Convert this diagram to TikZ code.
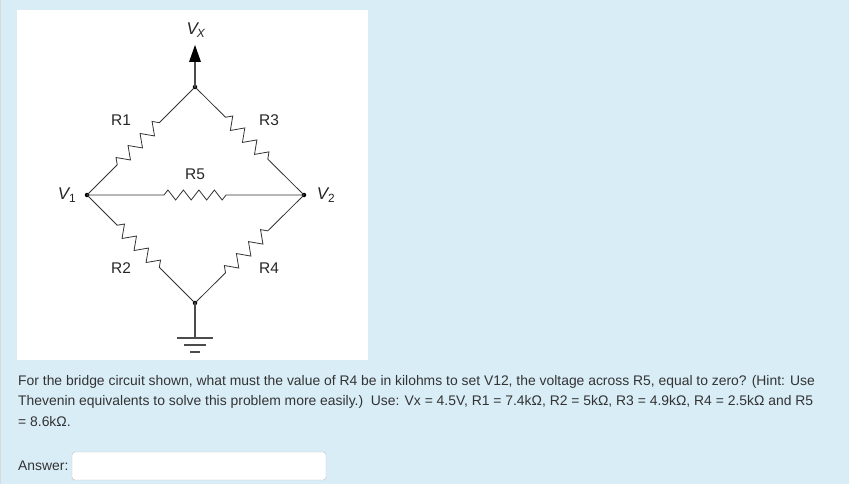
\documentclass[tikz,border=0pt]{standalone}
\usepackage{fontspec}
\setmainfont{Liberation Sans}
\usetikzlibrary{calc,decorations.pathmorphing,arrows.meta}
\definecolor{bg}{HTML}{D9EDF7}
\definecolor{txt}{HTML}{333333}
\begin{document}
\begin{tikzpicture}[x=1pt,y=-1pt,
  wire/.style={draw=black!80,line width=0.8pt},
  zz/.style={decorate,decoration={zigzag,segment length=17pt,amplitude=6pt}},
  zh/.style={decorate,decoration={zigzag,segment length=15.5pt,amplitude=5pt}},
  dot/.style={circle,fill=black,inner sep=0pt,minimum size=4.5pt},
  lab/.style={font=\fontsize{15.5}{16}\selectfont,text=black!85},
  para/.style={font=\fontsize{13.9}{20.5}\selectfont,text=txt,align=left,anchor=north west,inner sep=0pt}]
\useasboundingbox (0,0) rectangle (849,484);
\fill[bg] (0,0) rectangle (849,484);
\draw[black!15,line width=1pt] (0.5,0) -- (0.5,484);
\fill[white] (17,10) rectangle (368,360);
\node[dot] (T) at (195,87) {};
\node[dot] (L) at (87,195) {};
\node[dot] (R) at (304,195) {};
\node[dot] (B) at (195,303) {};
\coordinate (g) at (195,338);
\draw[black!70,line width=2pt] (T.center) -- (195,60);
\fill[black] (189,62) -- (201,62) -- (195,45) -- cycle;
\draw[black!70,line width=2pt] (B.center) -- (g);
\draw[black!70,line width=1.6pt] (177,338) -- (213,338);
\draw[black!70,line width=1.6pt] (184,345) -- (206,345);
\draw[black!70,line width=1.6pt] (190,352) -- (200,352);
\foreach \a/\b in {L/T,T/R,L/B,B/R}{
  \draw[wire] (\a.center) -- ($(\a.center)!0.28!(\b.center)$)
    decorate[zz]{-- ($(\a.center)!0.72!(\b.center)$)} -- (\b.center);
}
\draw[wire] (L.center) -- ($(L.center)!0.355!(R.center)$)
    decorate[zh]{-- ($(L.center)!0.645!(R.center)$)} -- (R.center);
\node[lab] (r1) at (121,120) {R1};
\node[lab] (r3) at (269,120) {R3};
\node[lab] (r5) at (195,174) {R5};
\node[lab] (r2) at (121,268) {R2};
\node[lab] (r4) at (269,268) {R4};
\node[lab,font=\fontsize{17}{18}\selectfont\itshape] (vx) at (196,30) {V\textsubscript{\kern-1pt X}};
\node[lab,font=\fontsize{17}{18}\selectfont\itshape] (v1) at (67,195) {V\textsubscript{\upshape 1}};
\node[lab,font=\fontsize{17}{18}\selectfont\itshape] (v2) at (326,195) {V\textsubscript{\upshape 2}};
\node[para] (q) at (18,375) {For the bridge circuit shown, what must the value of R4 be in kilohms to set V12, the voltage across R5, equal to zero? (Hint: Use\\ Thevenin equivalents to solve this problem more easily.)\ \ Use: Vx = 4.5V, R1 = 7.4kΩ, R2 = 5kΩ, R3 = 4.9kΩ, R4 = 2.5kΩ and R5\\ = 8.6kΩ.};
\node[font=\fontsize{13.9}{14}\selectfont,text=txt,anchor=west,inner sep=0pt] (ans) at (18,466) {Answer:};
\draw[fill=white,draw=black!25,rounded corners=3pt] (72,452) rectangle (326,480);
\end{tikzpicture}
\end{document}
